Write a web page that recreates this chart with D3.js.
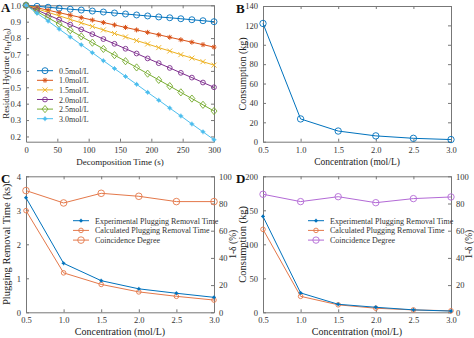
<!DOCTYPE html>
<html>
<head>
<meta charset="utf-8">
<script src="https://cdn.jsdelivr.net/npm/d3@7"></script>
<style>
  body { margin: 0; background: #fff; }
  svg { display: block; }
  svg text { font-family: "Liberation Serif", "Times New Roman", "DejaVu Serif", serif; }
  .tick text { fill: #333; font-size: 8.5px; font-family: "Liberation Serif", "Times New Roman", "DejaVu Serif", serif; }
  .domain, .tick line { stroke: #777; }
</style>
</head>
<body>
<svg id="fig" width="474" height="338"></svg>
<script>
// Panel A: residual hydrate fraction during decomposition
const timeA = [0, 17.6, 35.3, 52.9, 70.6, 88.2, 105.9, 123.5, 141.2, 158.8, 176.5, 194.1, 211.8, 229.4, 247.1, 264.7, 282.4, 300];
const seriesNamesA = ["0.5mol/L", "1.0mol/L", "1.5mol/L", "2.0mol/L", "2.5mol/L", "3.0mol/L"];
const resid05 = [1.000,0.994,0.988,0.982,0.976,0.971,0.965,0.959,0.953,0.947,0.941,0.935,0.929,0.924,0.918,0.912,0.906,0.900];
const resid10 = [1.000,0.985,0.970,0.955,0.940,0.925,0.910,0.895,0.880,0.865,0.850,0.835,0.820,0.805,0.790,0.775,0.760,0.745];
const resid15 = [1.000,0.979,0.957,0.936,0.914,0.893,0.871,0.850,0.828,0.807,0.785,0.764,0.742,0.721,0.699,0.678,0.656,0.635];
const resid20 = [1.000,0.971,0.941,0.912,0.882,0.853,0.824,0.794,0.765,0.735,0.706,0.676,0.647,0.618,0.588,0.559,0.529,0.500];
const resid25 = [1.000,0.962,0.924,0.886,0.848,0.810,0.772,0.734,0.696,0.659,0.621,0.583,0.545,0.507,0.469,0.431,0.393,0.355];
const resid30 = [1.000,0.952,0.904,0.855,0.807,0.759,0.711,0.662,0.614,0.566,0.518,0.469,0.421,0.373,0.325,0.276,0.228,0.180];
const ticksA_x = [0, 50, 100, 150, 200, 250, 300];
const ticksA_y = [0.2, 0.3, 0.4, 0.5, 0.6, 0.7, 0.8, 0.9, 1.0];

// Concentration axis shared by B, C, D
const conc = [0.5, 1.0, 1.5, 2.0, 2.5, 3.0];
const ticksConc = [0.5, 1.0, 1.5, 2.0, 2.5, 3.0];

// Panel B: consumption
const consumption = [122, 23.5, 11, 6, 3.5, 2.2];
const ticksB_y = [0, 20, 40, 60, 80, 100, 120, 140];

// Panel C: plugging removal time (ks) and coincidence degree (%)
const expTimeC = [3.37, 1.44, 0.93, 0.69, 0.56, 0.44];
const calcTimeC = [2.99, 1.16, 0.82, 0.60, 0.47, 0.36];
const coincC = [89.5, 80.4, 87.5, 85.3, 81.4, 81.4];
const ticksC_y = [0, 1, 2, 3, 4];

// Panel D: consumption (kg) and coincidence degree (%)
const expConsD = [141, 28.5, 11.8, 7.4, 3.6, 1.8];
const calcConsD = [122, 23.5, 11, 6, 3.5, 2.2];
const coincD = [86.8, 81.4, 85.0, 80.6, 83.6, 84.8];
const ticksD_y = [0, 50, 100, 150, 200];
const ticksRight = [0, 20, 40, 60, 80, 100];

const legendC = ["Experimental Plugging Removal  Time", "Calculated Plugging Removal  Time", "Coincidence Degree"];

const C = { blue: "#0072BD", red: "#D95319", yellow: "#EDB120", purple: "#7E2F8E",
            green: "#77AC30", cyan: "#4DBEEE", orange: "#E4784A", lilac: "#B36AD6" };

const svg = d3.select("#fig");

// marker drawing
function marker(g, type, x, y, color, r) {
  r = r || 3;
  if (type === "circle") {
    g.append("circle").attr("cx", x).attr("cy", y).attr("r", r)
      .attr("fill", "none").attr("stroke", color).attr("stroke-width", 0.9);
  } else if (type === "star") {
    const p = d3.path();
    for (let k = 0; k < 4; k++) {
      const a = k * Math.PI / 4;
      p.moveTo(x - r * Math.cos(a), y - r * Math.sin(a));
      p.lineTo(x + r * Math.cos(a), y + r * Math.sin(a));
    }
    g.append("path").attr("d", p.toString()).attr("stroke", color).attr("stroke-width", 1).attr("fill", "none");
  } else if (type === "x") {
    const p = d3.path();
    p.moveTo(x - r, y - r); p.lineTo(x + r, y + r);
    p.moveTo(x - r, y + r); p.lineTo(x + r, y - r);
    g.append("path").attr("d", p.toString()).attr("stroke", color).attr("stroke-width", 0.9);
  } else if (type === "diamond") {
    g.append("path").attr("d", `M${x},${y - r * 1.2}L${x + r},${y}L${x},${y + r * 1.2}L${x - r},${y}Z`)
      .attr("fill", "none").attr("stroke", color).attr("stroke-width", 0.9);
  } else if (type === "dot") {
    g.append("circle").attr("cx", x).attr("cy", y).attr("r", r * 0.7).attr("fill", color);
    const p = d3.path();
    p.moveTo(x - r, y); p.lineTo(x + r, y); p.moveTo(x, y - r); p.lineTo(x, y + r);
    g.append("path").attr("d", p.toString()).attr("stroke", color).attr("stroke-width", 0.8);
  }
}

function drawSeries(g, xs, ys, xScale, yScale, color, type, r, dash) {
  const line = d3.line().x((d, i) => xScale(xs[i])).y(d => yScale(d));
  g.append("path").datum(ys).attr("d", line).attr("fill", "none")
    .attr("stroke", color).attr("stroke-width", 1).attr("stroke-dasharray", dash || null);
  ys.forEach((v, i) => marker(g, type, xScale(xs[i]), yScale(v), color, r));
}

function frame(box, x, y, xTicks, yTicks, xFmt, yFmt, yRight, rTicks) {
  const g = svg.append("g");
  g.append("g").attr("transform", `translate(0,${box.b})`)
    .call(d3.axisBottom(x).tickValues(xTicks).tickFormat(xFmt).tickSizeInner(-3).tickSizeOuter(0).tickPadding(5));
  g.append("g").attr("transform", `translate(${box.l},0)`)
    .call(d3.axisLeft(y).tickValues(yTicks).tickFormat(yFmt).tickSizeInner(-3).tickSizeOuter(0).tickPadding(5));
  g.append("g").attr("transform", `translate(0,${box.t})`)
    .call(d3.axisTop(x).tickValues(xTicks).tickFormat("").tickSizeInner(-3).tickSizeOuter(0));
  if (yRight) {
    g.append("g").attr("transform", `translate(${box.r},0)`)
      .call(d3.axisRight(yRight).tickValues(rTicks).tickFormat(d3.format("d")).tickSizeInner(-3).tickSizeOuter(0).tickPadding(5));
  } else {
    g.append("g").attr("transform", `translate(${box.r},0)`)
      .call(d3.axisRight(y).tickValues(yTicks).tickFormat("").tickSizeInner(-3).tickSizeOuter(0));
  }
  return g;
}

function labels(box, o) {
  svg.append("text").attr("x", o.lx).attr("y", box.t + 7).attr("font-weight", "bold")
    .attr("font-size", 13).attr("fill", "#111").text(o.letter);
  svg.append("text").attr("x", (box.l + box.r) / 2).attr("y", box.b + 23)
    .attr("text-anchor", "middle").attr("font-size", o.xfs).attr("fill", "#222").text(o.xTitle);
  const yt = svg.append("text").attr("transform", `translate(${o.yx},${(box.t + box.b) / 2}) rotate(-90)`)
    .attr("text-anchor", "middle").attr("font-size", o.yfs).attr("fill", "#222");
  if (typeof o.yTitle === "string") yt.text(o.yTitle); else o.yTitle(yt);
  if (o.rTitle) {
    svg.append("text").attr("transform", `translate(${o.rx},${(box.t + box.b) / 2}) rotate(-90)`)
      .attr("text-anchor", "middle").attr("font-size", 9.5).attr("fill", "#222").text(o.rTitle);
  }
}

function legend(items, x0, y0, dy, lineLen, fs) {
  const g = svg.append("g");
  items.forEach((it, i) => {
    const y = y0 + i * dy;
    g.append("line").attr("x1", x0).attr("x2", x0 + lineLen).attr("y1", y).attr("y2", y)
      .attr("stroke", it.color).attr("stroke-width", 1).attr("stroke-dasharray", it.dash || null);
    marker(g, it.type, x0 + lineLen / 2, y, it.color, it.r);
    g.append("text").attr("x", x0 + lineLen + 6).attr("y", y + 3).attr("font-size", fs)
      .attr("fill", "#333").text(it.name);
  });
}

const f1 = d3.format(".1f");

// ---------- A ----------
{
  const box = { l: 26, r: 214, t: 5.3, b: 141.7 };
  const x = d3.scaleLinear().domain([0, 300]).range([box.l, box.r]);
  const y = d3.scaleLinear().domain([0.168, 1.0]).range([box.b, box.t]);
  const g = frame(box, x, y, ticksA_x, ticksA_y, d3.format("d"), f1);
  const series = [resid05, resid10, resid15, resid20, resid25, resid30];
  const colors = [C.blue, C.red, C.yellow, C.purple, C.green, C.cyan];
  const types = ["circle", "star", "x", "circle", "diamond", "dot"];
  const radii = [3, 2.5, 2.5, 2.4, 3, 2.5];
  series.forEach((s, k) => drawSeries(g, timeA, s, x, y, colors[k], types[k], radii[k]));
  legend(seriesNamesA.map((n, k) => ({ name: n, color: colors[k], type: types[k], r: radii[k] })),
    37, 70.7, 9.6, 16, 8);
  labels(box, {
    letter: "A", lx: 1, xTitle: "Decomposition Time (s)", xfs: 9,
    yTitle: t => {
      t.append("tspan").text("Residual Hydrate (n");
      t.append("tspan").attr("font-size", 6.5).attr("dy", 2).text("H");
      t.append("tspan").attr("dy", -2).text("/n");
      t.append("tspan").attr("font-size", 6.5).attr("dy", 2).text("0");
      t.append("tspan").attr("dy", -2).text(")");
    }, yx: 8.5, yfs: 9
  });
}

// ---------- B ----------
{
  const box = { l: 263, r: 451, t: 6, b: 141.7 };
  const x = d3.scaleLinear().domain([0.5, 3.0]).range([box.l, box.r]);
  const y = d3.scaleLinear().domain([0, 140]).range([box.b, box.t]);
  const g = frame(box, x, y, ticksConc, ticksB_y, f1, d3.format("d"));
  drawSeries(g, conc, consumption, x, y, C.blue, "circle", 3.2);
  labels(box, { letter: "B", lx: 236, xTitle: "Concentration (mol/L)", xfs: 9.5,
    yTitle: "Consumption (kg)", yx: 245.5, yfs: 10 });
}

// ---------- C ----------
{
  const box = { l: 26, r: 214, t: 176.3, b: 312.3 };
  const x = d3.scaleLinear().domain([0.5, 3.0]).range([box.l, box.r]);
  const y = d3.scaleLinear().domain([0, 4]).range([box.b, box.t]);
  const yr = d3.scaleLinear().domain([0, 100]).range([box.b, box.t]);
  const g = frame(box, x, y, ticksConc, ticksC_y, f1, d3.format("d"), yr, ticksRight);
  drawSeries(g, conc, coincC, x, yr, C.orange, "circle", 3.3);
  drawSeries(g, conc, calcTimeC, x, y, C.orange, "circle", 2.3);
  drawSeries(g, conc, expTimeC, x, y, C.blue, "dot", 2);
  legend([
    { name: legendC[0], color: C.blue, type: "dot", r: 2 },
    { name: legendC[1], color: C.orange, type: "circle", r: 2.3 },
    { name: legendC[2], color: C.orange, type: "circle", r: 3.3 }
  ], 73, 220.7, 9.7, 16, 8);
  labels(box, { letter: "C", lx: 1, xTitle: "Concentration (mol/L)", xfs: 10,
    yTitle: "Plugging Removal Time (ks)", yx: 9.5, yfs: 10.5, rTitle: "1-δ (%)", rx: 236 });
}

// ---------- D ----------
{
  const box = { l: 263, r: 451, t: 176.3, b: 312.3 };
  const x = d3.scaleLinear().domain([0.5, 3.0]).range([box.l, box.r]);
  const y = d3.scaleLinear().domain([0, 200]).range([box.b, box.t]);
  const yr = d3.scaleLinear().domain([0, 100]).range([box.b, box.t]);
  const g = frame(box, x, y, ticksConc, ticksD_y, f1, d3.format("d"), yr, ticksRight);
  drawSeries(g, conc, coincD, x, yr, C.lilac, "circle", 3.2);
  drawSeries(g, conc, calcConsD, x, y, C.orange, "circle", 2.3);
  drawSeries(g, conc, expConsD, x, y, C.blue, "dot", 2);
  legend([
    { name: legendC[0], color: C.blue, type: "dot", r: 2 },
    { name: legendC[1], color: C.orange, type: "circle", r: 2.3 },
    { name: legendC[2], color: C.lilac, type: "circle", r: 3.2 }
  ], 308, 220.7, 9.7, 16, 8);
  labels(box, { letter: "D", lx: 236, xTitle: "Concentration (mol/L)", xfs: 10,
    yTitle: "Consumption (kg)", yx: 246, yfs: 10.5, rTitle: "1-δ (%)", rx: 472 });
}
</script>
</body>
</html>
